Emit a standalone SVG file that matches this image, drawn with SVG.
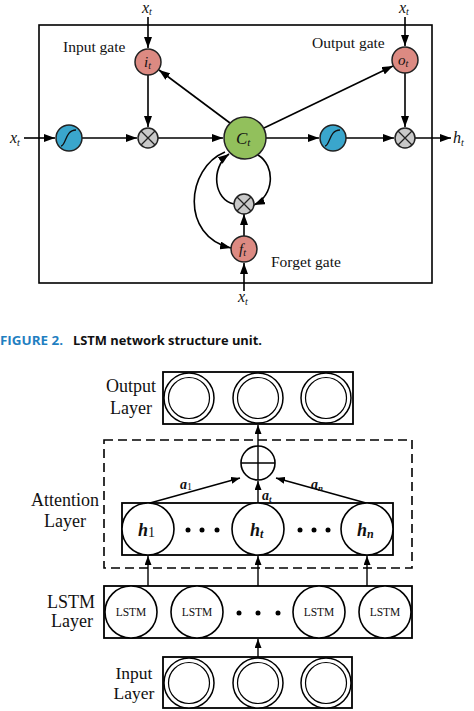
<svg xmlns="http://www.w3.org/2000/svg" width="474" height="711" viewBox="0 0 474 711">
<defs>
<marker id="ah" markerWidth="11" markerHeight="8" refX="11" refY="4" orient="auto" markerUnits="userSpaceOnUse"><path d="M0,0 L11,4 L0,8 z" fill="#000"/></marker>
<marker id="ah2" markerWidth="9" markerHeight="7" refX="9" refY="3.5" orient="auto" markerUnits="userSpaceOnUse"><path d="M0,0 L9,3.5 L0,7 z" fill="#000"/></marker>
</defs>
<style>
.ln{stroke:#000;stroke-width:1.6;fill:none}
.ln2{stroke:#000;stroke-width:1.4;fill:none}
.gate{fill:#dc8a82;stroke:#222;stroke-width:1.5}
.sig{fill:#3aa6cc;stroke:#222;stroke-width:1.5}
.mul{fill:#c9c9c9;stroke:#222;stroke-width:1.5}
.cell{fill:#92c05c;stroke:#222;stroke-width:1.5}
.t{font-family:"Liberation Serif","DejaVu Serif",serif;fill:#111}
.it{font-family:"Liberation Serif","DejaVu Serif",serif;font-style:italic;fill:#111}
.lab{font-family:"Liberation Serif","DejaVu Serif",serif;font-size:18px;fill:#111;text-anchor:middle}
.box{fill:#fff;stroke:#000;stroke-width:1.8}
.oc{fill:#fff;stroke:#000;stroke-width:1.5}
.ic{fill:none;stroke:#000;stroke-width:1.2}
.hc{fill:#fff;stroke:#000;stroke-width:1.6}
.dot{fill:#000}
</style>
<rect width="474" height="711" fill="#fff"/>

<!-- LSTM cell frame -->
<rect id="frame" x="39" y="25" width="393" height="258" fill="none" stroke="#000" stroke-width="1.6"/>

<g id="connectors-top">
<line class="ln" x1="148" y1="17" x2="148" y2="48" marker-end="url(#ah)"/>
<line class="ln" x1="148" y1="75" x2="148" y2="127" marker-end="url(#ah)"/>
<line class="ln" x1="24" y1="138" x2="55" y2="138" marker-end="url(#ah)"/>
<line class="ln" x1="82" y1="138" x2="137" y2="138" marker-end="url(#ah)"/>
<line class="ln" x1="158" y1="138" x2="223" y2="138" marker-end="url(#ah)"/>
<line class="ln" x1="230" y1="123" x2="159" y2="70" marker-end="url(#ah)"/>
<line class="ln" x1="264" y1="128" x2="393" y2="66" marker-end="url(#ah)"/>
<line class="ln" x1="266" y1="138" x2="319" y2="138" marker-end="url(#ah)"/>
<line class="ln" x1="346" y1="138" x2="394" y2="138" marker-end="url(#ah)"/>
<line class="ln" x1="405" y1="17" x2="405" y2="46" marker-end="url(#ah)"/>
<line class="ln" x1="405" y1="73" x2="405" y2="127" marker-end="url(#ah)"/>
<line class="ln" x1="415" y1="138" x2="451" y2="138" marker-end="url(#ah)"/>
<line class="ln" x1="244" y1="291" x2="244" y2="263" marker-end="url(#ah)"/>
<line class="ln" x1="244" y1="236" x2="244" y2="214" marker-end="url(#ah)"/>
<path class="ln" d="M234,204 C214,200 210,168 229,154" marker-end="url(#ah)"/>
<path class="ln" d="M258,155 C276,166 274,196 254,205" marker-end="url(#ah)"/>
<path class="ln" d="M225,152 C186,168 180,236 231,248" marker-end="url(#ah)"/>
</g>

<g id="i_t"><circle class="gate" cx="148" cy="62" r="13"/><text class="it" x="144" y="67" font-size="15">i<tspan font-size="10" dy="2">t</tspan></text></g>
<g id="o_t"><circle class="gate" cx="405" cy="60" r="13"/><text class="it" x="398" y="65" font-size="15">o<tspan font-size="10" dy="2">t</tspan></text></g>
<g id="f_t"><circle class="gate" cx="244" cy="249" r="13"/><text class="it" x="239" y="254" font-size="15">f<tspan font-size="10" dy="2">t</tspan></text></g>
<g id="C_t"><circle class="cell" cx="245" cy="138" r="21"/><text class="it" x="236" y="144" font-size="17">C<tspan font-size="11" dy="2">t</tspan></text></g>
<g id="sig1"><circle class="sig" cx="69" cy="138" r="13"/><path d="M61,146 C66,146 65,130 76,130" stroke="#111" stroke-width="1.3" fill="none"/></g>
<g id="sig2"><circle class="sig" cx="333" cy="138" r="13"/><path d="M325,146 C330,146 329,130 340,130" stroke="#111" stroke-width="1.3" fill="none"/></g>
<g id="mul1"><circle class="mul" cx="148" cy="138" r="10"/><path d="M141,131 L155,145 M155,131 L141,145" stroke="#222" stroke-width="1.3"/></g>
<g id="mul2"><circle class="mul" cx="405" cy="138" r="10"/><path d="M398,131 L412,145 M412,131 L398,145" stroke="#222" stroke-width="1.3"/></g>
<g id="mul3"><circle class="mul" cx="244" cy="204" r="10"/><path d="M237,197 L251,211 M251,197 L237,211" stroke="#222" stroke-width="1.3"/></g>

<g id="labels-top">
<text class="t" x="63" y="52" font-size="15.5">Input gate</text>
<text class="t" x="312" y="48" font-size="15.5">Output gate</text>
<text class="t" x="271" y="267" font-size="15.5">Forget gate</text>
<text class="it" x="142" y="13" font-size="16">x<tspan font-size="10" dy="2">t</tspan></text>
<text class="it" x="399" y="13" font-size="16">x<tspan font-size="10" dy="2">t</tspan></text>
<text class="it" x="10" y="143" font-size="16">x<tspan font-size="10" dy="3">t</tspan></text>
<text class="it" x="238" y="302" font-size="16">x<tspan font-size="10" dy="3">t</tspan></text>
<text class="it" x="453" y="143" font-size="16">h<tspan font-size="10" dy="3">t</tspan></text>
</g>

<g id="caption">
<text x="0" y="345" font-family="'Open Sans','Liberation Sans',sans-serif" font-weight="bold" font-size="13" fill="#1f7fc1" textLength="63" lengthAdjust="spacingAndGlyphs">FIGURE 2.</text>
<text x="73" y="345" font-family="'Open Sans','Liberation Sans',sans-serif" font-weight="bold" font-size="13" fill="#111" textLength="189" lengthAdjust="spacingAndGlyphs">LSTM network structure unit.</text>
</g>

<!-- Bottom diagram -->
<rect id="attention-frame" x="104" y="440" width="308" height="128" fill="none" stroke="#000" stroke-width="1.6" stroke-dasharray="9,5"/>

<g id="connectors-bottom">
<line class="ln2" x1="258" y1="446" x2="258" y2="425" marker-end="url(#ah2)"/>
<line class="ln2" x1="150" y1="503" x2="240" y2="478" marker-end="url(#ah2)"/>
<line class="ln2" x1="366" y1="503" x2="276" y2="478" marker-end="url(#ah2)"/>
<line class="ln2" x1="258" y1="503" x2="258" y2="481" marker-end="url(#ah2)"/>
<line class="ln2" x1="148" y1="586" x2="148" y2="556" marker-end="url(#ah2)"/>
<line class="ln2" x1="258" y1="586" x2="258" y2="556" marker-end="url(#ah2)"/>
<line class="ln2" x1="367" y1="586" x2="367" y2="556" marker-end="url(#ah2)"/>
<line class="ln2" x1="258" y1="657" x2="258" y2="639" marker-end="url(#ah2)"/>
</g>

<g id="output-layer">
<rect class="box" x="163" y="372" width="190" height="52"/>
<circle class="oc" cx="189" cy="398" r="25"/><circle class="ic" cx="189" cy="398" r="20.5"/>
<circle class="oc" cx="258" cy="398" r="25"/><circle class="ic" cx="258" cy="398" r="20.5"/>
<circle class="oc" cx="326" cy="398" r="25"/><circle class="ic" cx="326" cy="398" r="20.5"/>
<text class="lab" x="131" y="392">Output</text>
<text class="lab" x="131" y="414">Layer</text>
</g>

<g id="sum">
<circle class="hc" cx="258" cy="463" r="17"/>
<path d="M241,463 L275,463 M258,446 L258,480" stroke="#000" stroke-width="1.4"/>
</g>

<g id="attention-layer">
<rect class="box" x="122" y="503" width="271" height="52"/>
<circle class="hc" cx="148" cy="529" r="26"/>
<circle class="hc" cx="258" cy="529" r="26"/>
<circle class="hc" cx="367" cy="529" r="26"/>
<text class="it" x="138" y="536" font-size="18" font-weight="bold">h<tspan font-style="normal" font-weight="normal" font-size="14" dy="1">1</tspan></text>
<text class="it" x="250" y="536" font-size="18" font-weight="bold">h<tspan font-size="12" dy="2">t</tspan></text>
<text class="it" x="357" y="536" font-size="18" font-weight="bold">h<tspan font-size="12" dy="2">n</tspan></text>
<circle class="dot" cx="188" cy="530" r="2.5"/><circle class="dot" cx="202" cy="530" r="2.5"/><circle class="dot" cx="217" cy="530" r="2.5"/>
<circle class="dot" cx="300" cy="530" r="2.5"/><circle class="dot" cx="314" cy="530" r="2.5"/><circle class="dot" cx="328" cy="530" r="2.5"/>
<text class="lab" x="65" y="506">Attention</text>
<text class="lab" x="65" y="527">Layer</text>
<text class="it" x="180" y="489" font-size="14" font-weight="bold">a<tspan font-style="normal" font-weight="normal" font-size="10" dy="1">1</tspan></text>
<text class="it" x="262" y="500" font-size="14" font-weight="bold">a<tspan font-size="9" dy="2">t</tspan></text>
<text class="it" x="311" y="489" font-size="14" font-weight="bold">a<tspan font-size="9" dy="2">n</tspan></text>
</g>

<g id="lstm-layer">
<rect class="box" x="104" y="586" width="308" height="52"/>
<circle class="hc" cx="131" cy="612" r="26"/>
<circle class="hc" cx="197" cy="612" r="26"/>
<circle class="hc" cx="319" cy="612" r="26"/>
<circle class="hc" cx="385" cy="612" r="26"/>
<text class="t" x="131" y="616" font-size="11.5" text-anchor="middle">LSTM</text>
<text class="t" x="197" y="616" font-size="11.5" text-anchor="middle">LSTM</text>
<text class="t" x="319" y="616" font-size="11.5" text-anchor="middle">LSTM</text>
<text class="t" x="385" y="616" font-size="11.5" text-anchor="middle">LSTM</text>
<circle class="dot" cx="239" cy="613" r="2.5"/><circle class="dot" cx="258" cy="613" r="2.5"/><circle class="dot" cx="278" cy="613" r="2.5"/>
<text class="lab" x="71" y="608">LSTM</text>
<text class="lab" x="72" y="627">Layer</text>
</g>

<g id="input-layer">
<rect class="box" x="163" y="657" width="189" height="51"/>
<circle class="oc" cx="189" cy="683" r="25"/><circle class="ic" cx="189" cy="683" r="20.5"/>
<circle class="oc" cx="258" cy="683" r="25"/><circle class="ic" cx="258" cy="683" r="20.5"/>
<circle class="oc" cx="326" cy="683" r="25"/><circle class="ic" cx="326" cy="683" r="20.5"/>
<text class="lab" x="134" y="679" style="font-size:17.5px">Input</text>
<text class="lab" x="134" y="699" style="font-size:17.5px">Layer</text>
</g>
</svg>
